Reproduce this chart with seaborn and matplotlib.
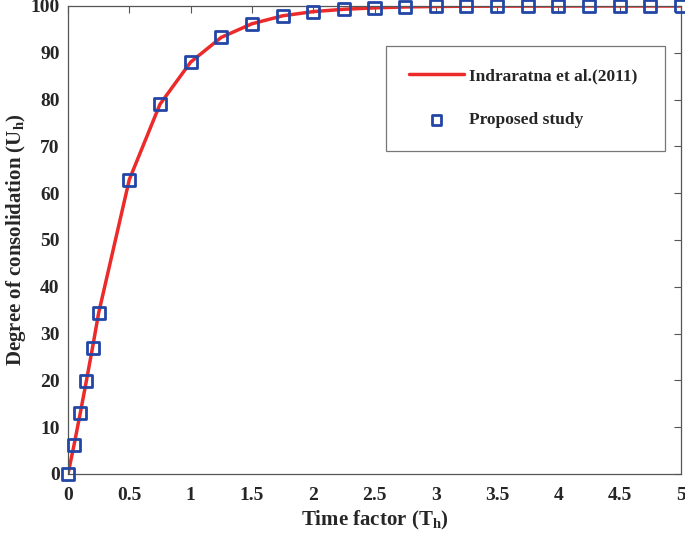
import numpy as np
import pandas as pd
import seaborn as sns
import matplotlib.pyplot as plt

sns.set_style("white")
plt.rcParams['font.family'] = ['Liberation Serif', 'DejaVu Serif']
plt.rcParams['font.weight'] = 'bold'
plt.rcParams['mathtext.fontset'] = 'custom'
plt.rcParams['mathtext.rm'] = 'Liberation Serif:bold'
plt.rcParams['mathtext.it'] = 'Liberation Serif:bold'
plt.rcParams['mathtext.bf'] = 'Liberation Serif:bold'

# Time factor values
time_factor = [0, 0.05, 0.1, 0.15, 0.2, 0.25, 0.5, 0.75, 1.0, 1.25, 1.5, 1.75,
               2.0, 2.25, 2.5, 2.75, 3.0, 3.25, 3.5, 3.75, 4.0, 4.25, 4.5, 4.75, 5.0]

# Degree of consolidation (%)
indraratna = [0, 6.3, 13.0, 19.9, 27.0, 34.4, 62.9, 79.0, 88.0, 93.3, 96.2, 97.9,
              98.8, 99.3, 99.6, 99.8, 99.9, 99.95, 99.97, 99.98, 99.99, 100, 100, 100, 100]
proposed = [0, 6.3, 13.0, 19.9, 27.0, 34.4, 62.9, 79.0, 88.0, 93.3, 96.2, 97.9,
            98.8, 99.3, 99.6, 99.8, 99.9, 99.95, 99.97, 99.98, 99.99, 100, 100, 100, 100]

df = pd.DataFrame({"T": time_factor, "ind": indraratna, "prop": proposed})

fig = plt.figure(figsize=(6.85, 5.34), dpi=100)
ax = fig.add_axes([68 / 685, 60 / 534, 613 / 685, 468 / 534])

sns.lineplot(data=df, x="T", y="ind", color="#ec2a2a", linewidth=2.5,
             label="Indraratna et al.(2011)", ax=ax, zorder=2)
sns.scatterplot(data=df, x="T", y="prop", marker="s", s=75, facecolor="none",
                edgecolor="#2346a6", linewidth=2.0, label="Proposed study",
                ax=ax, zorder=3, clip_on=False)

ax.set_xlim(0, 5)
ax.set_ylim(0, 100)
ax.set_xticks(np.arange(0, 5.01, 0.5))
ax.set_xticklabels(["0", "0.5", "1", "1.5", "2", "2.5", "3", "3.5", "4", "4.5", "5"])
ax.set_yticks(np.arange(0, 101, 10))

ax.tick_params(direction="in", length=5, width=0.8, color="#555555",
               top=True, right=True, labelsize=14, pad=6)
ax.tick_params(axis="x", pad=9)
for lab in ax.get_xticklabels() + ax.get_yticklabels():
    lab.set_fontweight("bold")
for sp in ax.spines.values():
    sp.set_color("#555555")
    sp.set_linewidth(0.9)

ax.set_xlabel(r"Time factor (T$_\mathregular{h}$)", fontsize=15, fontweight="bold", labelpad=4)
ax.set_ylabel(r"Degree of consolidation (U$_\mathregular{h}$)", fontsize=15, fontweight="bold", labelpad=2)

leg = ax.legend(loc="upper left", bbox_to_anchor=(0.519, 0.692, 0.455, 0.223),
                mode="expand", frameon=True, markerscale=0.8,
                fancybox=False, edgecolor="#555555", fontsize=12.5, borderpad=1.3,
                labelspacing=1.6, handlelength=3.2, handletextpad=0.3,
                borderaxespad=0)
leg.get_frame().set_linewidth(0.9)
for t in leg.get_texts():
    t.set_fontweight("bold")

fig.savefig("out.png", dpi=100)
